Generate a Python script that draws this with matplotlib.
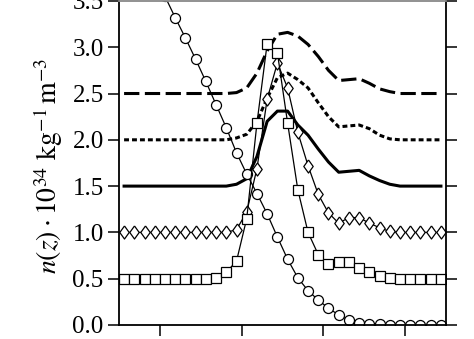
import numpy as np
import matplotlib
matplotlib.use("Agg")
import matplotlib.pyplot as plt

plt.rcParams['font.family'] = ['Liberation Serif', 'DejaVu Serif']
plt.rcParams['mathtext.fontset'] = 'stix'

# sample positions (half-integer grid, 32 points)
x = np.arange(32) + 0.5

# marker series
circles = [4.46, 4.23, 4.00, 3.78, 3.55, 3.32, 3.10, 2.87, 2.63, 2.38, 2.13,
           1.86, 1.63, 1.42, 1.20, 0.95, 0.71, 0.51, 0.37, 0.27, 0.18, 0.11,
           0.05, 0.02, 0.01, 0.01, 0.0, 0.0, 0.0, 0.0, 0.0, 0.0]
squares = [0.5, 0.5, 0.5, 0.5, 0.5, 0.5, 0.5, 0.5, 0.5, 0.51, 0.57, 0.69,
           1.15, 2.18, 3.04, 2.94, 2.18, 1.46, 1.00, 0.76, 0.66, 0.68, 0.68,
           0.62, 0.57, 0.53, 0.51, 0.5, 0.5, 0.5, 0.5, 0.5]
diamonds = [1.0, 1.0, 1.0, 1.0, 1.0, 1.0, 1.0, 1.0, 1.0, 1.0, 1.0, 1.03,
            1.22, 1.69, 2.44, 2.83, 2.56, 2.08, 1.72, 1.41, 1.21, 1.10, 1.16,
            1.16, 1.10, 1.05, 1.01, 1.0, 1.0, 1.0, 1.0, 1.0]

# thick line series
solid = [1.5, 1.5, 1.5, 1.5, 1.5, 1.5, 1.5, 1.5, 1.5, 1.5, 1.5, 1.52,
         1.58, 1.82, 2.20, 2.31, 2.31, 2.16, 2.05, 1.90, 1.76, 1.65, 1.66,
         1.67, 1.61, 1.56, 1.52, 1.5, 1.5, 1.5, 1.5, 1.5]
dotted = [2.0, 2.0, 2.0, 2.0, 2.0, 2.0, 2.0, 2.0, 2.0, 2.0, 2.0, 2.02,
          2.06, 2.20, 2.45, 2.67, 2.72, 2.65, 2.56, 2.40, 2.25, 2.14, 2.15,
          2.16, 2.12, 2.05, 2.01, 2.0, 2.0, 2.0, 2.0, 2.0]
dashed = [2.5, 2.5, 2.5, 2.5, 2.5, 2.5, 2.5, 2.5, 2.5, 2.5, 2.5, 2.51,
          2.56, 2.72, 2.96, 3.14, 3.16, 3.12, 3.03, 2.90, 2.75, 2.64, 2.65,
          2.66, 2.61, 2.55, 2.52, 2.5, 2.5, 2.5, 2.5, 2.5]

yticks = [0.0, 0.5, 1.0, 1.5, 2.0, 2.5, 3.0, 3.5]
xticks = [4, 12, 20, 28]

fig = plt.figure(figsize=(4.74, 3.39), dpi=100)
ax = fig.add_axes([0.251, 0.0413, 0.690, 0.956])

diamond = [(0, 1), (0.72, 0), (0, -1), (-0.72, 0), (0, 1)]
mk = dict(color='black', lw=0.9, mfc='white', mec='black', mew=0.9)

ax.plot(x, dashed, color='black', lw=2.2, dashes=(5, 1.8))
ax.plot(x, dotted, color='black', lw=2.2, dashes=(1.6, 1.0))
ax.plot(x, solid, color='black', lw=2.2)
ax.plot(x, circles, marker='o', ms=7.2, **mk)
ax.plot(x, diamonds, marker=diamond, ms=9.4, **mk)
ax.plot(x, squares, marker='s', ms=7.2, **mk)

ax.set_xlim(0, 32)
ax.set_ylim(0, 3.5)
ax.set_yticks(yticks)
ax.set_yticklabels(['%.1f' % v for v in yticks])
ax.set_xticks(xticks)
ax.tick_params(axis='both', direction='out', length=8, width=1.1,
               labelsize=18, pad=3)
ax.tick_params(axis='x', labelbottom=False)
ax.tick_params(axis='y', right=True, labelright=False)
for s in ax.spines.values():
    s.set_linewidth(1.3)
ax.spines['top'].set_color('#888888')

ax.set_ylabel(r'$n(z)\cdot10^{34}\ \mathrm{kg}^{-1}\,\mathrm{m}^{-3}$',
              fontsize=20)
ax.yaxis.set_label_coords(-0.165, 0.49)

fig.savefig('out.png', dpi=100)
